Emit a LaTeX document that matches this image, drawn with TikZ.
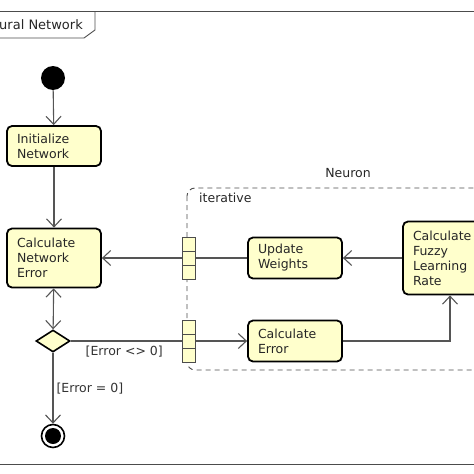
\documentclass[tikz,border=0pt]{standalone}
\usepackage{fontspec}
\setmainfont{DejaVu Sans}
\usetikzlibrary{shapes.geometric,arrows.meta}
\definecolor{actfill}{HTML}{FFFFCC}
\definecolor{flowgray}{HTML}{555555}

\begin{document}
\begin{tikzpicture}[x=1pt,y=-1pt,
		action/.style={draw=black,line width=1.8pt,fill=actfill,rounded corners=5pt,
			inner xsep=10pt,text width=74pt,align=left,font=\fontsize{12.5}{15}\selectfont,text=black!85},
		pincell/.style={draw=black!70,line width=0.6pt,fill=actfill,minimum width=13pt,minimum height=14pt,inner sep=0pt},
		flow/.style={draw=flowgray,line width=1.1pt,-{Straight Barb[length=8pt,width=15pt]}},
		plain/.style={draw=flowgray,line width=1.1pt},
		guard/.style={font=\fontsize{12.5}{15}\selectfont,text=black!80,inner sep=1pt},
		frameline/.style={draw=black!70,line width=0.9pt}]
		\useasboundingbox (0,0) rectangle (474,474);
		\draw[frameline] (-5,11) -- (480,11);
		\draw[frameline] (-5,464) -- (480,464);
		\draw[frameline] (-5,38) -- (84,38) -- (95,30) -- (95,11);
		\node[anchor=east,font=\fontsize{13}{15}\selectfont,text=black!85,inner sep=0pt] (title) at (83,25) {ural Network};
		\draw[dashed,dash pattern=on 5pt off 4pt,draw=black!70,line width=0.9pt,rounded corners=8pt] (187,188) rectangle (495,370);
		\node[font=\fontsize{12.5}{15}\selectfont,text=black!85] (neuron) at (348,173) {Neuron};
		\node[anchor=west,font=\fontsize{12.5}{15}\selectfont,text=black!85,inner sep=0pt] (iter) at (199,198) {iterative};
		\node[circle,fill=black,minimum size=24pt,inner sep=0pt] (start) at (53,78) {};
		\node[action,minimum height=40pt] (init) at (54,146) {Initialize\\Network};
		\node[action,minimum height=59pt] (calcnet) at (54,258) {Calculate\\Network\\Error};
		\node[diamond,draw=black,line width=1.6pt,fill=actfill,minimum width=34pt,minimum height=22pt,inner sep=0pt] (dec) at (53,341) {};
		\node[circle,draw=black,line width=1.6pt,minimum size=23pt,inner sep=0pt,
			path picture={\fill[black] (path picture bounding box.center) circle (8pt);}] (final) at (53,436) {};
		\node[action,minimum height=41pt] (upd) at (295,258) {Update\\Weights};
		\node[action,minimum height=73pt] (fuzzy) at (450,258) {Calculate\\Fuzzy\\Learning\\Rate};
		\node[action,minimum height=41pt] (calcerr) at (295,341) {Calculate\\Error};
		\foreach \i in {0,1,2}{
			\node[pincell] (pa\i) at (189,244+14*\i) {};
			\node[pincell] (pb\i) at (189,327+14*\i) {};
		}
		\draw[flow] (start) -- (init);
		\draw[flow] (init) -- (calcnet);
		\draw[flow,{Straight Barb[length=8pt,width=15pt]}-{Straight Barb[length=8pt,width=15pt]}] (calcnet) -- (dec);
		\draw[flow] (dec) -- node[guard,anchor=west,pos=0.5,xshift=2pt] {[Error = 0]} (final);
		\draw[plain] (dec.east) -- node[guard,anchor=north west,pos=0.12,yshift=-3pt] {[Error <> 0]} (pb1.west);
		\draw[flow] (pb1.east) -- (calcerr.west);
		\draw[flow] (calcerr.east) -| (fuzzy.south);
		\draw[flow] (fuzzy.west) -- (upd.east);
		\draw[plain] (upd.west) -- (pa1.east);
		\draw[flow] (pa1.west) -- (calcnet.east);
	\end{tikzpicture}
\end{document}
